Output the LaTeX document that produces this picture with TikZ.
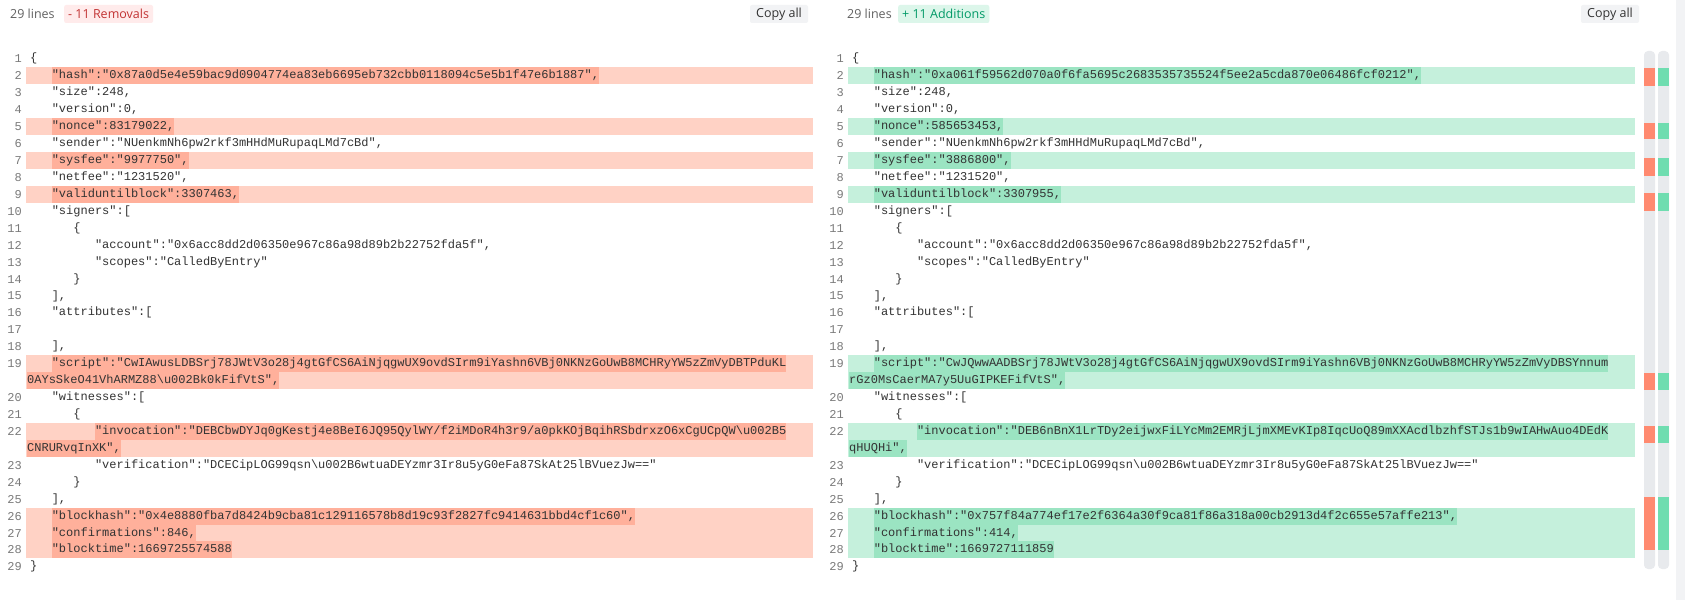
\documentclass[tikz,border=0pt]{standalone}
\usepackage{fontspec}
\setmainfont{Open Sans}
\newfontfamily\codefont{Liberation Mono}
\definecolor{rl}{HTML}{FFD2C5}
\definecolor{rd}{HTML}{FFB09B}
\definecolor{gl}{HTML}{C5F0DC}
\definecolor{gd}{HTML}{9BE4C2}
\definecolor{rm}{HTML}{FF8A70}
\definecolor{gm}{HTML}{6FDDB0}
\definecolor{txt}{HTML}{333333}
\definecolor{numc}{HTML}{7A7A7A}
\definecolor{track}{HTML}{E8EAED}
\definecolor{btn}{HTML}{F2F3F5}
\newcommand\RW{16.93}
\newcommand\codeL[5]{%
 \node[num] (n#1-#2) at ({#1+22},{59+\RW*#2}) {#3};
 \node[code] (t#1-#2) at ({#1+30+21.6*#4},{59+\RW*#2}) {#5};}
\newcommand\codeH[6]{%
 \fill[#6l] ({#1+26},{59+\RW*#2-8.5}) rectangle ({#1+813},{59+\RW*#2+8.5});
 \node[num] (n#1-#2) at ({#1+22},{59+\RW*#2}) {#3};
 \node[code,fill=#6d] (t#1-#2) at ({#1+30+21.6*#4},{59+\RW*#2}) {#5};}
\newcommand\codeW[4]{%
 \fill[#4l] ({#1+26},{59+\RW*#2-8.5}) rectangle ({#1+813},{59+\RW*#2+8.5});
 \node[code,fill=#4d] (w#1-#2) at ({#1+27},{59+\RW*#2}) {#3};}
\begin{document}
\begin{tikzpicture}[x=1bp,y=-1bp,
 code/.style={anchor=west,inner xsep=0pt,inner ysep=0pt,text height=9bp,text depth=3bp,minimum height=17bp,font=\codefont\fontsize{12bp}{14bp}\selectfont,text=txt},
 num/.style={anchor=east,inner sep=0pt,font=\codefont\fontsize{12bp}{14bp}\selectfont,text=numc},
 hdr/.style={inner sep=0pt,font=\fontsize{12.5bp}{14bp}\selectfont},
 badge/.style={hdr,inner xsep=4bp,minimum height=18bp,rounded corners=2bp}]
\useasboundingbox (0,0) rectangle (1685,600);
\fill[white] (0,0) rectangle (1685,600);
\fill[btn] (1676,0) rectangle (1685,600);
% headers
\node[hdr,anchor=west,text=numc!80!black] (ll) at (10,14) {29 lines};
\node[badge,anchor=west,fill=red!8,text=red!70!black!80] (lb) at (64,14) {- 11 Removals};
\node[badge,anchor=center,fill=btn,text=txt,minimum width=58bp] (lc) at (779,14) {Copy all};
\node[hdr,anchor=west,text=numc!80!black] (rl0) at (847,14) {29 lines};
\node[badge,anchor=west,fill=gl!60,text=teal!80!green] (rb) at (898,14) {+ 11 Additions};
\node[badge,anchor=center,fill=btn,text=txt,minimum width=58bp] (rc) at (1610,14) {Copy all};
% left panel
\codeL{0}{0}{1}{0}{\{}
\codeH{0}{1}{2}{1}{"hash":"0x87a0d5e4e59bac9d0904774ea83eb6695eb732cbb0118094c5e5b1f47e6b1887",}{r}
\codeL{0}{2}{3}{1}{"size":248,}
\codeL{0}{3}{4}{1}{"version":0,}
\codeH{0}{4}{5}{1}{"nonce":83179022,}{r}
\codeL{0}{5}{6}{1}{"sender":"NUenkmNh6pw2rkf3mHHdMuRupaqLMd7cBd",}
\codeH{0}{6}{7}{1}{"sysfee":"9977750",}{r}
\codeL{0}{7}{8}{1}{"netfee":"1231520",}
\codeH{0}{8}{9}{1}{"validuntilblock":3307463,}{r}
\codeL{0}{9}{10}{1}{"signers":[}
\codeL{0}{10}{11}{2}{\{}
\codeL{0}{11}{12}{3}{"account":"0x6acc8dd2d06350e967c86a98d89b2b22752fda5f",}
\codeL{0}{12}{13}{3}{"scopes":"CalledByEntry"}
\codeL{0}{13}{14}{2}{\}}
\codeL{0}{14}{15}{1}{],}
\codeL{0}{15}{16}{1}{"attributes":[}
\codeL{0}{16}{17}{1}{}
\codeL{0}{17}{18}{1}{],}
\codeH{0}{18}{19}{1}{"script":"CwIAwusLDBSrj78JWtV3o28j4gtGfCS6AiNjqgwUX9ovdSIrm9iYashn6VBj0NKNzGoUwB8MCHRyYW5zZmVyDBTPduKL}{r}
\codeW{0}{19}{0AYsSkeO41VhARMZ88\textbackslash u002Bk0kFifVtS",}{r}
\codeL{0}{20}{20}{1}{"witnesses":[}
\codeL{0}{21}{21}{2}{\{}
\codeH{0}{22}{22}{3}{"invocation":"DEBCbwDYJq0gKestj4e8BeI6JQ95QylWY/f2iMDoR4h3r9/a0pkKOjBqihRSbdrxzO6xCgUCpQW\textbackslash u002B5}{r}
\codeW{0}{23}{CNRURvqInXK",}{r}
\codeL{0}{24}{23}{3}{"verification":"DCECipLOG99qsn\textbackslash u002B6wtuaDEYzmr3Ir8u5yG0eFa87SkAt25lBVuezJw=="}
\codeL{0}{25}{24}{2}{\}}
\codeL{0}{26}{25}{1}{],}
\codeH{0}{27}{26}{1}{"blockhash":"0x4e8880fba7d8424b9cba81c129116578b8d19c93f2827fc9414631bbd4cf1c60",}{r}
\codeH{0}{28}{27}{1}{"confirmations":846,}{r}
\codeH{0}{29}{28}{1}{"blocktime":1669725574588}{r}
\codeL{0}{30}{29}{0}{\}}
% right panel
\codeL{822}{0}{1}{0}{\{}
\codeH{822}{1}{2}{1}{"hash":"0xa061f59562d070a0f6fa5695c2683535735524f5ee2a5cda870e06486fcf0212",}{g}
\codeL{822}{2}{3}{1}{"size":248,}
\codeL{822}{3}{4}{1}{"version":0,}
\codeH{822}{4}{5}{1}{"nonce":585653453,}{g}
\codeL{822}{5}{6}{1}{"sender":"NUenkmNh6pw2rkf3mHHdMuRupaqLMd7cBd",}
\codeH{822}{6}{7}{1}{"sysfee":"3886800",}{g}
\codeL{822}{7}{8}{1}{"netfee":"1231520",}
\codeH{822}{8}{9}{1}{"validuntilblock":3307955,}{g}
\codeL{822}{9}{10}{1}{"signers":[}
\codeL{822}{10}{11}{2}{\{}
\codeL{822}{11}{12}{3}{"account":"0x6acc8dd2d06350e967c86a98d89b2b22752fda5f",}
\codeL{822}{12}{13}{3}{"scopes":"CalledByEntry"}
\codeL{822}{13}{14}{2}{\}}
\codeL{822}{14}{15}{1}{],}
\codeL{822}{15}{16}{1}{"attributes":[}
\codeL{822}{16}{17}{1}{}
\codeL{822}{17}{18}{1}{],}
\codeH{822}{18}{19}{1}{"script":"CwJQwwAADBSrj78JWtV3o28j4gtGfCS6AiNjqgwUX9ovdSIrm9iYashn6VBj0NKNzGoUwB8MCHRyYW5zZmVyDBSYnnum}{g}
\codeW{822}{19}{rGz0MsCaerMA7y5UuGIPKEFifVtS",}{g}
\codeL{822}{20}{20}{1}{"witnesses":[}
\codeL{822}{21}{21}{2}{\{}
\codeH{822}{22}{22}{3}{"invocation":"DEB6nBnX1LrTDy2eijwxFiLYcMm2EMRjLjmXMEvKIp8IqcUoQ89mXXAcdlbzhfSTJs1b9wIAHwAuo4DEdK}{g}
\codeW{822}{23}{qHUQHi",}{g}
\codeL{822}{24}{23}{3}{"verification":"DCECipLOG99qsn\textbackslash u002B6wtuaDEYzmr3Ir8u5yG0eFa87SkAt25lBVuezJw=="}
\codeL{822}{25}{24}{2}{\}}
\codeL{822}{26}{25}{1}{],}
\codeH{822}{27}{26}{1}{"blockhash":"0x757f84a774ef17e2f6364a30f9ca81f86a318a00cb2913d4f2c655e57affe213",}{g}
\codeH{822}{28}{27}{1}{"confirmations":414,}{g}
\codeH{822}{29}{28}{1}{"blocktime":1669727111859}{g}
\codeL{822}{30}{29}{0}{\}}
% minimap
\fill[track,rounded corners=4bp] (1644,51) rectangle (1655,569);
\fill[track,rounded corners=4bp] (1658,51) rectangle (1669,569);
\foreach \a/\b in {68.5/85.7,122.8/139.2,158.4/175.6,193.5/210.8,372.5/389.7,426/443.3,496.8/550.3}{
 \fill[rm] (1644,\a) rectangle (1655,\b);
 \fill[gm] (1658,\a) rectangle (1669,\b);
}
\end{tikzpicture}
\end{document}
